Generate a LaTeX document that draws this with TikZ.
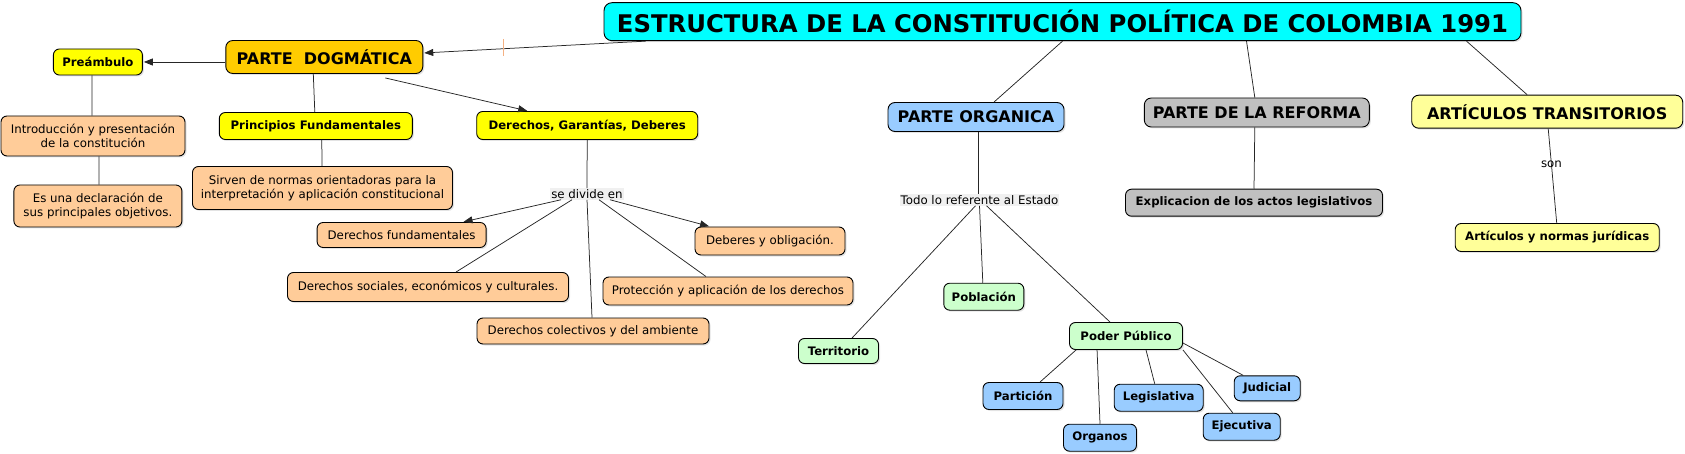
\documentclass[tikz,border=0pt]{standalone}
\usepackage{fontspec}
\setmainfont{DejaVu Sans}
\usetikzlibrary{arrows.meta,shadows}
\definecolor{ccyan}{HTML}{00FFFF}
\definecolor{cgold}{HTML}{FFCC00}
\definecolor{cyellow}{HTML}{FFFF00}
\definecolor{cpeach}{HTML}{FFCC99}
\definecolor{cblue}{HTML}{99CCFF}
\definecolor{cmint}{HTML}{CCFFCC}
\definecolor{csilver}{HTML}{C0C0C0}
\definecolor{cpale}{HTML}{FFFF99}
\definecolor{clink}{HTML}{F0F0F0}
\definecolor{ctick}{HTML}{F4B183}

\begin{document}
\begin{tikzpicture}[x=1pt, y=-1pt,
      every node/.style={font=\fontsize{11.8}{14.5}\selectfont},
      box/.style={draw, rounded corners=6pt, align=center, inner sep=0pt, line width=0.9pt,
                  drop shadow={shadow xshift=1.5pt, shadow yshift=-1.5pt, opacity=0.22}},
      concept/.style={box, font=\fontsize{11.7}{14}\selectfont\bfseries},
      header/.style={box, rounded corners=7pt, font=\fontsize{16}{19}\selectfont\bfseries},
      detail/.style={box, fill=cpeach},
      linkword/.style={inner sep=1pt, fill=clink},
      line/.style={draw=black!85, line width=0.75pt},
      arrow/.style={line, -{Triangle[length=9pt, width=7pt]}, shorten >=1pt}
    ]
    \useasboundingbox (0,0) rectangle (1685,454);

    \node[box, fill=ccyan, rounded corners=8pt, minimum width=917pt, minimum height=38pt,
          font=\fontsize{24.3}{28}\selectfont\bfseries] (title) at (1062.5,21.7)
          {ESTRUCTURA DE LA CONSTITUCIÓN POLÍTICA DE COLOMBIA 1991};

    \node[header, fill=cgold, minimum width=197pt, minimum height=33pt] (dog) at (324.3,57) {PARTE~\ DOGMÁTICA};
    \node[concept, fill=cyellow, minimum width=89pt, minimum height=26pt] (pre) at (97.9,62) {Preámbulo};
    \node[detail, minimum width=184pt, minimum height=40pt] (intro) at (93,136) {Introducción y presentación\\de la constitución};
    \node[detail, minimum width=168pt, minimum height=42pt] (decl) at (97.9,206) {Es una declaración de\\sus principales objetivos.};
    \node[concept, fill=cyellow, minimum width=193pt, minimum height=27pt] (pri) at (315.8,126) {Principios Fundamentales};
    \node[detail, minimum width=260pt, minimum height=43pt] (sirven) at (322.5,188) {Sirven de normas orientadoras para la\\interpretación y aplicación constitucional};
    \node[concept, fill=cyellow, minimum width=221pt, minimum height=28pt] (dgd) at (587.2,125.5) {Derechos, Garantías, Deberes};
    \node[linkword] (divide) at (587,194) {se divide en};
    \node[detail, minimum width=169pt, minimum height=25pt] (df) at (401.6,235) {Derechos fundamentales};
    \node[detail, minimum width=281pt, minimum height=29pt] (ds) at (428,287) {Derechos sociales, económicos y culturales.};
    \node[detail, minimum width=232pt, minimum height=26pt] (dc) at (593,331) {Derechos colectivos y del ambiente};
    \node[detail, minimum width=250pt, minimum height=28pt] (prot) at (728,291) {Protección y aplicación de los derechos};
    \node[detail, minimum width=150pt, minimum height=28pt] (deb) at (770,241) {Deberes y obligación.};

    \node[header, fill=cblue, minimum width=176pt, minimum height=29pt] (org) at (976,117) {PARTE ORGANICA};
    \node[linkword] (todo) at (979.5,200) {Todo lo referente al Estado};
    \node[concept, fill=cmint, minimum width=80pt, minimum height=27pt] (pob) at (983.8,296.7) {Población};
    \node[concept, fill=cmint, minimum width=80pt, minimum height=25pt] (ter) at (838.5,351) {Territorio};
    \node[concept, fill=cmint, minimum width=113pt, minimum height=27pt] (pp) at (1126,336) {Poder Público};
    \node[concept, fill=cblue, minimum width=80pt, minimum height=27pt] (par) at (1023,396) {Partición};
    \node[concept, fill=cblue, minimum width=73pt, minimum height=27pt] (organos) at (1100,437.7) {Organos};
    \node[concept, fill=cblue, minimum width=89pt, minimum height=27pt] (leg) at (1158.7,397.7) {Legislativa};
    \node[concept, fill=cblue, minimum width=66pt, minimum height=25pt] (jud) at (1267.2,388.3) {Judicial};
    \node[concept, fill=cblue, minimum width=77pt, minimum height=27pt] (eje) at (1241.7,426.7) {Ejecutiva};

    \node[header, fill=csilver, minimum width=225pt, minimum height=29pt] (ref) at (1256.8,112.5) {PARTE DE LA REFORMA};
    \node[concept, fill=csilver, minimum width=257pt, minimum height=27pt] (exp) at (1254,202.7) {Explicacion de los actos legislativos};

    \node[header, fill=cpale, minimum width=271pt, minimum height=33pt] (at) at (1547.2,111.7) {ARTÍCULOS TRANSITORIOS};
    \node[concept, fill=cpale, minimum width=204pt, minimum height=28pt] (anj) at (1557.2,237.5) {Artículos y normas jurídicas};

    \draw[arrow] ([xshift=42pt]title.south west) -- ([yshift=4pt]dog.east);
    \draw[ctick, line width=1pt] (503,39) -- (503,56);
    \draw[arrow] (pre.east -| dog.west) -- (pre.east);
    \draw[line] ([xshift=-11pt]dog.south) -- ([xshift=-1pt]pri.north);
    \draw[arrow] ([xshift=61pt, yshift=-4pt]dog.south) -- ([xshift=-59pt]dgd.north);
    \draw[line] ([xshift=-6pt]pre.south) -- ([xshift=-1pt]intro.north);
    \draw[line] ([xshift=6pt]intro.south) -- ([xshift=1pt]decl.north);
    \draw[line] ([xshift=6pt]pri.south) -- ([xshift=-0.5pt]sirven.north);
    \draw[line] (dgd.south) -- (divide.north);
    \draw[arrow] ([xshift=-26pt]divide.south) -- ([xshift=61pt]df.north);
    \draw[line] ([xshift=-15pt]divide.south) -- ([xshift=28pt]ds.north);
    \draw[line] (divide.south) -- ([xshift=-1pt]dc.north);
    \draw[line] ([xshift=12pt]divide.south) -- ([xshift=-22pt]prot.north);
    \draw[arrow] ([xshift=23pt]divide.south) -- ([xshift=-60pt]deb.north);

    \draw[line] (title.south) -- ([xshift=18pt]org.north);
    \draw[line] ([xshift=2pt]org.south) -- ([xshift=-1.5pt]todo.north);
    \draw[line] (todo.south) -- ([xshift=-1pt]pob.north);
    \draw[line] ([xshift=-4pt]todo.south) -- ([xshift=13.5pt]ter.north);
    \draw[line] ([xshift=7pt]todo.south) -- ([xshift=-16pt]pp.north);
    \draw[line] ([xshift=7pt]pp.south west) -- ([xshift=17pt]par.north);
    \draw[line] ([xshift=28pt]pp.south west) -- (organos.north);
    \draw[line] ([xshift=20pt]pp.south) -- ([xshift=-4pt]leg.north);
    \draw[line] ([yshift=-7pt]pp.east) -- ([xshift=-24pt]jud.north);
    \draw[line] (pp.south east) -- ([xshift=-9pt]eje.north);

    \draw[line] ([xshift=184pt]title.south) -- ([xshift=-2pt]ref.north);
    \draw[line] ([xshift=-2pt]ref.south) -- (exp.north);
    \draw[line] ([xshift=404pt]title.south) -- ([xshift=-20pt]at.north);
    \draw[line] ([xshift=1pt]at.south) -- node[pos=0.38, inner sep=0pt] (son) {son} ([xshift=-0.5pt]anj.north);
  \end{tikzpicture}
\end{document}
